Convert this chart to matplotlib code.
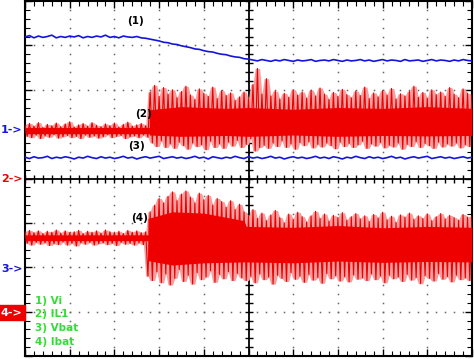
import numpy as np
import matplotlib
matplotlib.use("Agg")
import matplotlib.pyplot as plt

# ---- data (oscilloscope divisions: x 0..10, y -4..4) ----
vi = [3.19,3.22,3.17,3.21,3.18,3.20,3.23,3.17,3.20,3.18,
      3.21,3.19,3.22,3.17,3.20,3.18,3.21,3.19,3.23,3.18,
      3.20,3.17,3.21,3.19,3.18,3.20,3.17,
      3.16,3.14,3.12,3.10,3.07,3.06,3.03,3.02,2.99,2.97,2.95,2.92,2.91,2.88,2.86,
      2.85,2.82,2.80,2.79,2.76,2.74,2.73,2.70,2.69,
      2.67,2.65,2.68,2.66,2.64,2.67,2.65,2.68,2.66,2.64,
      2.67,2.65,2.66,2.68,2.64,2.66,2.67,2.65,2.68,2.66,
      2.64,2.67,2.65,2.66,2.68,2.65,2.67,2.64,2.66,2.68,
      2.65,2.67,2.66,2.64,2.68,2.65,2.66,2.67,2.64,2.66,
      2.68,2.65,2.67,2.66,2.64,2.67,2.65,2.68,2.66,2.65]

vbat = [0.48,0.45,0.49,0.46,0.47,0.50,0.45,0.48,0.46,0.49,
        0.47,0.44,0.48,0.46,0.50,0.47,0.45,0.49,0.46,0.48,
        0.45,0.47,0.50,0.46,0.48,0.44,0.47,0.49,0.46,0.48,
        0.50,0.45,0.47,0.49,0.46,0.48,0.45,0.47,0.50,0.46,
        0.48,0.44,0.49,0.47,0.45,0.48,0.46,0.50,0.47,0.45,
        0.49,0.46,0.48,0.45,0.47,0.50,0.46,0.48,0.44,0.47,
        0.49,0.46,0.48,0.45,0.47,0.50,0.46,0.48,0.45,0.49,
        0.47,0.44,0.48,0.46,0.50,0.47,0.45,0.49,0.46,0.48,
        0.45,0.47,0.50,0.46,0.48,0.44,0.47,0.49,0.46,0.48,
        0.50,0.45,0.47,0.49,0.46,0.48,0.45,0.47,0.49,0.46,
        0.48]

il1 = [1.20,0.95,1.24,0.92,1.18,0.98,1.26,0.90,1.15,0.96,
       1.22,0.93,1.19,0.99,1.25,0.91,1.17,0.94,1.23,0.97,
       1.28,0.92,1.16,0.95,1.21,0.90,1.24,0.98,1.18,0.93,
       1.26,0.96,1.20,0.91,1.17,0.94,1.23,0.99,1.19,0.92,
       1.25,0.95,1.16,0.97,1.22,0.90,1.27,0.94,1.18,0.96,
       1.21,0.92,1.24,0.98,1.19,0.93,
       1.95,0.80,2.10,0.72,1.85,0.85,2.05,0.70,1.90,0.78,
       2.00,0.68,1.82,0.82,1.96,0.74,2.08,0.66,1.88,0.80,
       1.78,0.72,2.02,0.76,1.92,0.65,1.85,0.84,2.06,0.70,
       1.80,0.78,1.98,0.68,1.87,0.82,1.93,0.73,1.76,0.86,
       1.84,0.70,1.95,0.77,1.80,0.90,2.12,0.62,2.48,0.70,
       1.90,0.75,2.25,0.68,1.86,0.80,1.97,0.72,1.79,0.85,
       1.92,0.70,1.83,0.78,2.00,0.66,1.88,0.81,1.95,0.74,
       1.81,0.83,1.99,0.69,1.86,0.77,2.04,0.71,1.90,0.80,
       1.78,0.74,1.94,0.67,1.85,0.82,2.01,0.72,1.89,0.79,
       1.82,0.70,1.97,0.76,1.87,0.84,2.06,0.68,1.80,0.78,
       1.93,0.73,1.84,0.81,1.98,0.69,1.88,0.75,2.03,0.71,
       1.79,0.80,1.91,0.66,1.86,0.77,1.96,0.72,2.08,0.83,
       1.83,0.70,1.94,0.79,1.81,0.74,2.00,0.68,1.89,0.82,
       1.95,0.71,1.85,0.78,2.05,0.73,1.90,0.80,1.82,0.69,
       2.02,0.76,1.92,0.72,1.88]

ibat = [-1.20,-1.46,-1.17,-1.50,-1.22,-1.44,-1.18,-1.48,-1.24,-1.45,
        -1.19,-1.51,-1.21,-1.47,-1.16,-1.49,-1.23,-1.43,-1.18,-1.50,
        -1.22,-1.46,-1.20,-1.52,-1.17,-1.45,-1.24,-1.48,-1.19,-1.44,
        -1.21,-1.50,-1.18,-1.47,-1.23,-1.45,-1.16,-1.49,-1.20,-1.46,
        -1.22,-1.51,-1.19,-1.44,-1.24,-1.48,-1.17,-1.46,-1.21,-1.50,
        -1.18,-1.45,-1.22,-1.49,-1.20,
        -2.20,-0.75,-2.30,-0.60,-2.10,-0.45,-2.35,-0.55,-2.15,-0.40,
        -2.40,-0.30,-2.25,-0.50,-2.05,-0.35,-2.32,-0.28,-2.18,-0.42,
        -2.38,-0.55,-2.12,-0.33,-2.28,-0.48,-2.22,-0.38,-2.08,-0.60,
        -2.34,-0.45,-2.16,-0.52,-2.26,-0.65,-2.10,-0.50,-2.30,-0.70,
        -2.14,-0.58,-2.24,-0.75,
        -2.30,-0.85,-2.20,-0.70,-2.35,-0.90,-2.15,-0.78,-2.28,-0.95,
        -2.22,-0.82,-2.38,-0.72,-2.18,-0.88,-2.25,-1.00,-2.32,-0.80,
        -2.12,-0.92,-2.27,-0.76,-2.20,-0.86,-2.34,-0.98,-2.16,-0.84,
        -2.29,-0.74,-2.23,-0.90,-2.36,-0.80,-2.14,-0.96,-2.26,-0.83,
        -2.19,-0.88,-2.31,-0.77,-2.21,-0.94,-2.33,-0.86,-2.17,-0.79,
        -2.27,-0.91,-2.24,-0.84,-2.30,-0.97,-2.15,-0.81,-2.28,-0.89,
        -2.20,-0.76,-2.35,-0.93,-2.18,-0.85,-2.26,-0.99,-2.22,-0.82,
        -2.32,-0.87,-2.16,-0.78,-2.29,-0.92,-2.23,-0.84,-2.37,-0.90,
        -2.19,-0.80,-2.25,-0.95,-2.31,-0.86,-2.14,-0.79,-2.27,-0.91,
        -2.21,-0.83,-2.33,-0.88,-2.18,-0.94,-2.28,-0.81,-2.24,-0.87,
        -2.30,-0.85]

# dense core band of the red traces
il1_core_x = [0.0, 2.78, 2.78, 3.5, 4.5, 5.0, 6.0, 7.0, 8.0, 9.0, 10.0]
il1_core_hi = [1.15, 1.15, 1.55, 1.62, 1.58, 1.60, 1.56, 1.60, 1.58, 1.62, 1.58]
il1_core_lo = [1.01, 1.01, 0.98, 0.95, 0.97, 0.95, 0.98, 0.95, 0.97, 0.96, 0.97]

ibat_core_x = [0.0, 2.75, 2.75, 3.3, 4.0, 4.9, 4.95, 6.0, 7.0, 8.0, 9.0, 10.0]
ibat_core_hi = [-1.27, -1.27, -0.90, -0.75, -0.78, -0.95, -1.08, -1.10, -1.06, -1.11, -1.08, -1.10]
ibat_core_lo = [-1.40, -1.40, -1.85, -1.95, -1.90, -1.88, -1.88, -1.90, -1.86, -1.89, -1.87, -1.88]

trace_labels = ["(1)", "(2)", "(3)", "(4)"]
trace_label_pos = [(2.48, 3.54), (2.64, 1.46), (2.50, 0.74), (2.57, -0.90)]
legend_lines = ["1) Vi", "2) IL1", "3) Vbat", "4) Ibat"]
channel_markers = ["1->", "2->", "3->", "4->"]
channel_levels = [1.10, 0.0, -2.05, -3.02]

BLUE = "#1414dc"
RED = "#ee0000"
PINK = "#f4a0a0"
GREEN = "#33dd33"
chan_colors = [BLUE, RED, BLUE, "white"]

# ---- figure ----
W, H = 474, 359
fig = plt.figure(figsize=(W / 100, H / 100), dpi=100)
ax = fig.add_axes([25 / W, 3 / H, 447 / W, 355 / H])
ax.set_xlim(0, 10)
ax.set_ylim(-4, 4)

# dotted graticule
minor = np.arange(0, 10.001, 0.2)
minor_y = np.arange(-4, 4.001, 0.2)
for gx in range(1, 10):
    if gx == 5:
        continue
    ax.plot(np.full_like(minor_y, gx), minor_y, ls="none", marker="s",
            ms=1.1, color="#666666", mew=0, zorder=1)
for gy in range(-3, 4):
    if gy == 0:
        continue
    ax.plot(minor, np.full_like(minor, gy), ls="none", marker="s",
            ms=1.1, color="#666666", mew=0, zorder=1)

# central axes with ticks
ax.axhline(0, color="black", lw=1.3, zorder=1)
ax.axvline(5, color="black", lw=1.3, zorder=1)
ax.plot(minor, np.zeros_like(minor), ls="none", marker="|", ms=6,
        mew=1.0, color="black", zorder=1)
ax.plot(np.full_like(minor_y, 5), minor_y, ls="none", marker="_", ms=6,
        mew=1.0, color="black", zorder=1)


def envelopes(vals):
    v = np.asarray(vals)
    p = np.pad(v, 1, mode="edge")
    hi = np.maximum.reduce([p[:-2], p[1:-1], p[2:]])
    lo = np.minimum.reduce([p[:-2], p[1:-1], p[2:]])
    return lo, hi


x101 = np.linspace(0, 10, len(vi))
x201 = np.linspace(0, 10, len(il1))
for vals, cx, clo, chi in [(il1, il1_core_x, il1_core_lo, il1_core_hi),
                           (ibat, ibat_core_x, ibat_core_lo, ibat_core_hi)]:
    lo, hi = envelopes(vals)
    ax.fill_between(x201, lo, hi, color=PINK, lw=0, zorder=2)
    ax.fill_between(cx, clo, chi, color=RED, lw=0, zorder=3)
    ax.plot(x201, vals, color=RED, lw=0.8, zorder=3)

ax.plot(x101, vi, color=BLUE, lw=1.2, zorder=4)
ax.plot(x101, vbat, color=BLUE, lw=1.2, zorder=4)

for lab, (tx, ty) in zip(trace_labels, trace_label_pos):
    ax.text(tx, ty, lab, ha="center", va="center", fontsize=7.5,
            fontweight="bold", color="black", zorder=5)

for i, lab in enumerate(legend_lines):
    ax.text(0.22, -2.75 - i * 0.31, lab, ha="left", va="center",
            fontsize=7.5, fontweight="bold", color=GREEN, zorder=5)

# ticks on the frame
ax.set_xticks(np.arange(0, 11, 1))
ax.set_yticks(np.arange(-4, 5, 1))
ax.set_xticks(minor, minor=True)
ax.set_yticks(minor_y, minor=True)
ax.tick_params(which="both", direction="in", top=True, right=True,
               labelbottom=False, labelleft=False, color="black")
ax.tick_params(which="major", length=5, width=1.0)
ax.tick_params(which="minor", length=3.5, width=0.8)
for s in ax.spines.values():
    s.set_linewidth(1.5)

# channel markers on the left
for i, (lab, lev) in enumerate(zip(channel_markers, channel_levels)):
    ytxt = ax.transData.transform((0, lev))[1]
    yfig = ytxt / H
    if i == 3:
        fig.text(11 / W, yfig, lab, ha="center", va="center", fontsize=8,
                 fontweight="bold", color="white",
                 bbox=dict(boxstyle="square,pad=0.25", fc=RED, ec=RED))
    else:
        fig.text(12 / W, yfig, lab, ha="center", va="center", fontsize=8,
                 fontweight="bold", color=chan_colors[i])

fig.savefig("out.png", dpi=100)
